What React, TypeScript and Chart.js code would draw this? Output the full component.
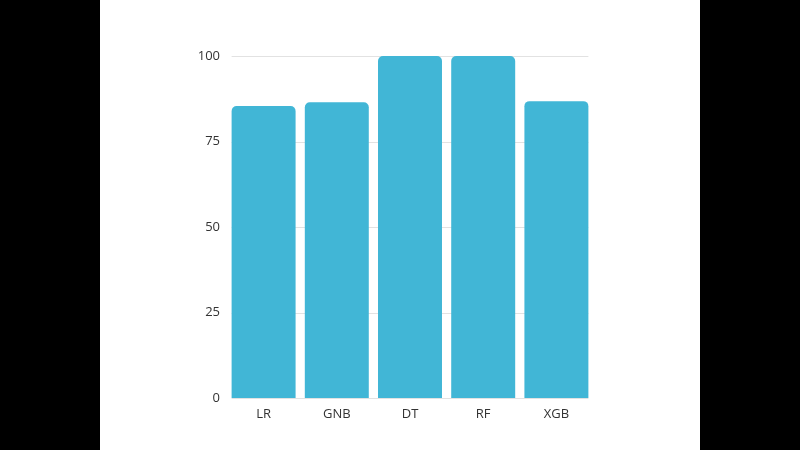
import React, { useEffect, useRef } from "react";
import { Chart, registerables } from "chart.js";

Chart.register(...registerables);

const categories = ["LR", "GNB", "DT", "RF", "XGB"];
const scores = [85.4, 86.5, 100, 100, 86.8];
const yTicks = [0, 25, 50, 75, 100];

const barSpanGrid = {
  id: "barSpanGrid",
  beforeDatasetsDraw(chart: any) {
    const meta = chart.getDatasetMeta(0);
    const bars = meta.data;
    if (!bars || bars.length === 0) return;
    const first = bars[0].getProps(["x", "width"], true);
    const last = bars[bars.length - 1].getProps(["x", "width"], true);
    const x0 = first.x - first.width / 2;
    const x1 = last.x + last.width / 2;
    const y = chart.scales.y;
    const ctx = chart.ctx;
    ctx.save();
    ctx.strokeStyle = "#e2e2e2";
    ctx.lineWidth = 1;
    for (const t of yTicks) {
      const py = Math.round(y.getPixelForValue(t)) + 0.5;
      ctx.beginPath();
      ctx.moveTo(x0, py);
      ctx.lineTo(x1, py);
      ctx.stroke();
    }
    ctx.restore();
  },
};

export default function App() {
  const ref = useRef<HTMLCanvasElement | null>(null);

  useEffect(() => {
    document.body.style.margin = "0";
    const canvas = ref.current;
    if (!canvas) return;
    const chart = new Chart(canvas, {
      type: "bar",
      data: {
        labels: categories,
        datasets: [
          {
            data: scores,
            backgroundColor: "#41b6d6",
            borderRadius: { topLeft: 5, topRight: 5, bottomLeft: 0, bottomRight: 0 },
            borderSkipped: "bottom",
            barPercentage: 0.874,
            categoryPercentage: 1.0,
          },
        ],
      },
      options: {
        animation: false,
        responsive: false,
        maintainAspectRatio: false,
        layout: { padding: { left: 0, right: 207, top: 56, bottom: 0 } },
        plugins: { legend: { display: false }, tooltip: { enabled: false } },
        scales: {
          x: {
            grid: { display: false, drawTicks: false },
            border: { display: false },
            ticks: {
              color: "#333333",
              font: { family: "Open Sans", size: 13 },
              padding: 8,
            },
            afterFit: (scale: any) => {
              scale.height = 52;
            },
          },
          y: {
            min: 0,
            max: 100,
            afterBuildTicks: (scale: any) => {
              scale.ticks = yTicks.map((v) => ({ value: v }));
            },
            grid: { display: false, drawTicks: false },
            border: { display: false },
            ticks: {
              color: "#333333",
              font: { family: "Open Sans", size: 13 },
              padding: 7,
            },
            afterFit: (scale: any) => {
              scale.width = 227;
            },
          },
        },
      },
      plugins: [barSpanGrid],
    });
    return () => chart.destroy();
  }, []);

  return (
    <div style={{ position: "fixed", left: 0, top: 0, width: 800, height: 450, background: "#000" }}>
      <div style={{ position: "absolute", left: 100, top: 0, width: 600, height: 450, background: "#fff" }} />
      <canvas
        ref={ref}
        width={800}
        height={450}
        style={{ position: "absolute", left: 0, top: 0, width: 800, height: 450 }}
      />
    </div>
  );
}
